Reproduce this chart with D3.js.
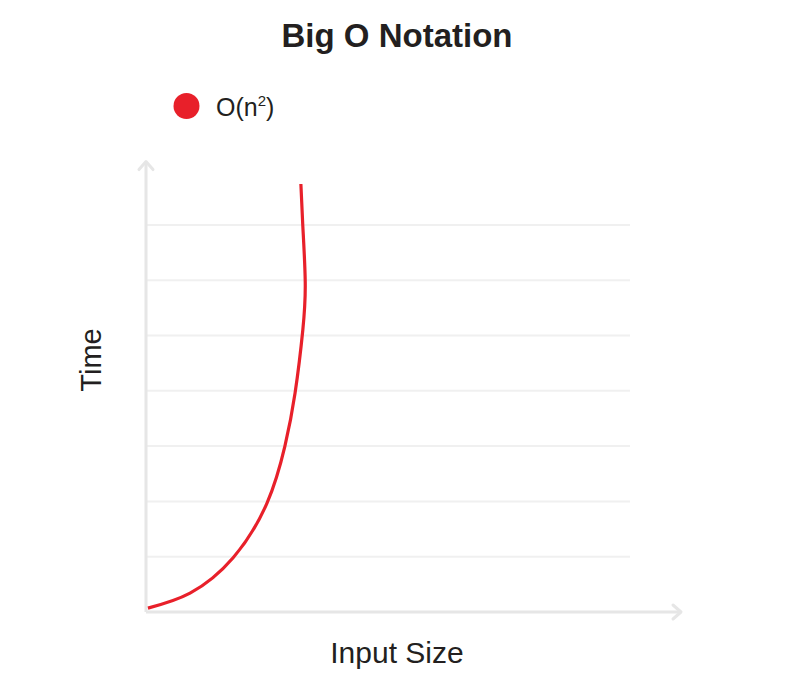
<!DOCTYPE html>
<html>
<head>
<meta charset="utf-8">
<script src="https://cdn.jsdelivr.net/npm/d3@7"></script>
<style>
  body { margin: 0; background: #fff; }
  text { font-family: "Liberation Sans", Arial, sans-serif; fill: #231f20; }
</style>
</head>
<body>
<div id="chart"></div>
<script>
// --------------- Data ---------------
const inputSize = [0.04, 0.91, 1.8, 2.5, 2.87, 3.08, 3.24, 3.29, 3.24, 3.2];
const timeValues = [0.07, 0.34, 0.98, 1.97, 3.0, 3.96, 5.1, 5.97, 6.98, 7.74];
const gridValues = [1, 2, 3, 4, 5, 6, 7];
const seriesName = "O(n";

// --------------- Constants ---------------
const WIDTH = 799;
const HEIGHT = 691;
const RED = "#e8202a";
const AXIS_COLOR = "#e6e6e6";
const GRID_COLOR = "#f0f0f0";

const svg = d3
  .select("#chart")
  .append("svg")
  .attr("width", WIDTH)
  .attr("height", HEIGHT);

const x = d3.scaleLinear().domain([0, 10]).range([146, 630]);
const y = d3.scaleLinear().domain([0, 8]).range([612, 169.6]);

// gridlines
svg
  .append("g")
  .selectAll("line")
  .data(gridValues)
  .enter()
  .append("line")
  .attr("x1", x(0))
  .attr("x2", x(10))
  .attr("y1", (d) => y(d))
  .attr("y2", (d) => y(d))
  .attr("stroke", GRID_COLOR)
  .attr("stroke-width", 2);

// axes with chevron arrows
const axes = svg
  .append("g")
  .attr("fill", "none")
  .attr("stroke", AXIS_COLOR)
  .attr("stroke-width", 3);

const yTop = y(8) - 8;
const xEnd = x(10) + 51;
axes.append("path").attr("d", `M${x(0)},${y(0)}V${yTop}`);
axes
  .append("path")
  .attr("d", `M${x(0) - 7},${yTop + 8}L${x(0)},${yTop}L${x(0) + 7},${yTop + 8}`)
  .attr("stroke-linecap", "round")
  .attr("stroke-linejoin", "round");
axes.append("path").attr("d", `M${x(0)},${y(0)}H${xEnd}`);
axes
  .append("path")
  .attr("d", `M${xEnd - 8},${y(0) - 7}L${xEnd},${y(0)}L${xEnd - 8},${y(0) + 7}`)
  .attr("stroke-linecap", "round")
  .attr("stroke-linejoin", "round");

// the curve
const points = inputSize.map((v, i) => [v, timeValues[i]]);
const line = d3
  .line()
  .x((d) => x(d[0]))
  .y((d) => y(d[1]))
  .curve(d3.curveNatural);

svg
  .append("path")
  .datum(points)
  .attr("d", line)
  .attr("fill", "none")
  .attr("stroke", RED)
  .attr("stroke-width", 3.2);

// title
svg
  .append("text")
  .attr("x", 397)
  .attr("y", 47)
  .attr("text-anchor", "middle")
  .attr("font-size", 33)
  .attr("font-weight", "bold")
  .text("Big O Notation");

// legend
svg.append("circle").attr("cx", 186.5).attr("cy", 106).attr("r", 13).attr("fill", RED);
const legendText = svg
  .append("text")
  .attr("x", 216)
  .attr("y", 116)
  .attr("font-size", 25);
legendText.append("tspan").text(seriesName);
legendText
  .append("tspan")
  .attr("font-size", 15)
  .attr("dy", -10)
  .text("2");
legendText.append("tspan").attr("dy", 10).text(")");

// axis labels
svg
  .append("text")
  .attr("x", 397)
  .attr("y", 663)
  .attr("text-anchor", "middle")
  .attr("font-size", 30)
  .text("Input Size");

svg
  .append("text")
  .attr("transform", "translate(101,360) rotate(-90)")
  .attr("text-anchor", "middle")
  .attr("font-size", 29)
  .text("Time");
</script>
</body>
</html>
